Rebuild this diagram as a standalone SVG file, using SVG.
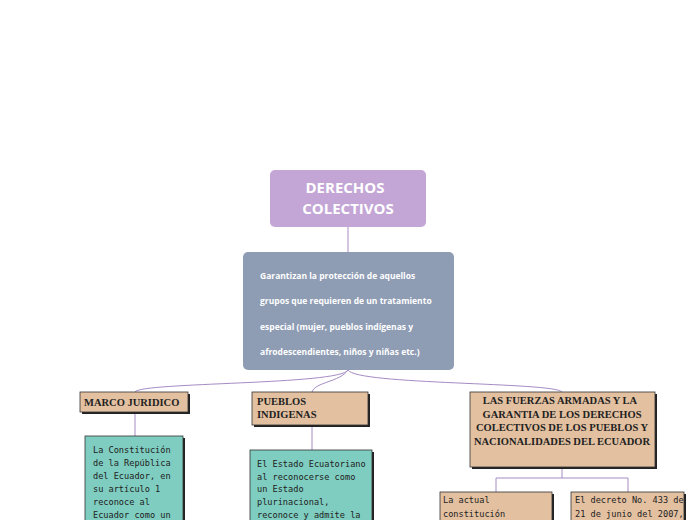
<svg xmlns="http://www.w3.org/2000/svg" width="696" height="520" viewBox="0 0 696 520">
<style>
.h{font-family:"Liberation Serif",serif;font-weight:bold;font-size:10.5px;fill:#222}
.b{font-family:"DejaVu Sans Mono","Liberation Mono",monospace;font-size:8.6px;fill:#222}
.w{font-family:"Open Sans","Liberation Sans",sans-serif;font-weight:bold;fill:#fff}
.tan{fill:#e2c0a0;stroke:#333;stroke-width:0.8}
.teal{fill:#7ecdc0;stroke:#333;stroke-width:0.8}
.sh{fill:#222}
.c{fill:none;stroke:#a58cc4;stroke-width:1}
</style>
<rect width="696" height="520" fill="#fff"/>
<g id="connectors">
<path class="c" d="M348 227V252"/>
<path class="c" d="M348 370C340 385 140 382 135 392"/>
<path class="c" d="M348 370C340 382 315 382 312 392"/>
<path class="c" d="M348 370C356 385 555 382 562 392"/>
<path class="c" d="M135 412V436M312 425V450M562 467V478M496 478H628M496 478V492M628 478V492"/>
</g>
<g id="title"><rect x="270" y="170" width="156" height="57" rx="5" fill="#c3a6d6"/>
<text class="w" font-size="15" text-anchor="middle" x="345" y="193">DERECHOS</text>
<text class="w" font-size="15" text-anchor="middle" x="348" y="214">COLECTIVOS</text></g>
<g id="desc"><rect x="243" y="252" width="211" height="118" rx="5" fill="#8e9cb4"/>
<text class="w" font-size="8.5" x="260" y="279">Garantizan la protección de aquellos</text>
<text class="w" font-size="8.5" x="260" y="304">grupos que requieren de un tratamiento</text>
<text class="w" font-size="8.5" x="260" y="330">especial (mujer, pueblos indígenas y</text>
<text class="w" font-size="8.5" x="260" y="355">afrodescendientes, niños y niñas etc.)</text></g>
<g id="marco"><rect class="sh" x="82" y="394" width="108" height="20"/><rect class="tan" x="80" y="392" width="108" height="20"/>
<text class="h" x="84" y="406">MARCO JURIDICO</text></g>
<g id="marco-t"><rect class="sh" x="87" y="438" width="98" height="90"/><rect class="teal" x="85" y="436" width="98" height="90"/>
<text class="b" x="93" y="453">La Constitución</text>
<text class="b" x="93" y="466">de la República</text>
<text class="b" x="93" y="479">del Ecuador, en</text>
<text class="b" x="93" y="492">su artículo 1</text>
<text class="b" x="93" y="505">reconoce al</text>
<text class="b" x="93" y="518">Ecuador como un</text></g>
<g id="pueblos"><rect class="sh" x="254" y="394" width="116" height="33"/><rect class="tan" x="252" y="392" width="116" height="33"/>
<text class="h" x="257" y="405">PUEBLOS</text><text class="h" x="257" y="418">INDIGENAS</text></g>
<g id="pueblos-t"><rect class="sh" x="252" y="452" width="122" height="80"/><rect class="teal" x="250" y="450" width="122" height="80"/>
<text class="b" x="257" y="467">El Estado Ecuatoriano</text>
<text class="b" x="257" y="480">al reconocerse como</text>
<text class="b" x="257" y="492">un Estado</text>
<text class="b" x="257" y="505">plurinacional,</text>
<text class="b" x="257" y="518">reconoce y admite la</text></g>
<g id="fuerzas"><rect class="sh" x="472" y="394" width="185" height="75"/><rect class="tan" x="470" y="392" width="185" height="75"/>
<text class="h" text-anchor="middle" x="560" y="404">LAS FUERZAS ARMADAS  Y LA</text>
<text class="h" text-anchor="middle" x="562" y="418">GARANTIA DE LOS  DERECHOS</text>
<text class="h" text-anchor="middle" x="562" y="431">COLECTIVOS DE LOS PUEBLOS Y</text>
<text class="h" text-anchor="middle" x="562" y="445">NACIONALIDADES DEL ECUADOR</text></g>
<g id="actual"><rect class="sh" x="442" y="494" width="112" height="40"/><rect class="tan" x="440" y="492" width="112" height="40"/>
<text class="b" x="443" y="503">La actual</text><text class="b" x="443" y="517">constitución</text></g>
<g id="decreto"><rect class="sh" x="573" y="494" width="113" height="40"/><rect class="tan" x="571" y="492" width="113" height="40"/>
<text class="b" x="575" y="503">El decreto No. 433 de</text><text class="b" x="575" y="517">21 de junio del 2007,</text></g>
</svg>
